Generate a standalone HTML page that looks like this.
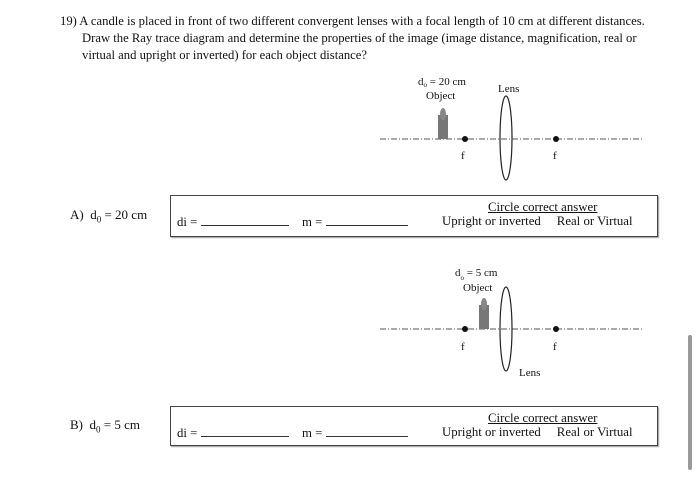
<!DOCTYPE html>
<html><head><style>
body{margin:0;width:700px;height:499px;background:#fff;position:relative;overflow:hidden;font-family:"Liberation Serif",serif;color:#111}
.t{position:absolute;white-space:nowrap;font-size:12.5px}
.h{font-size:12.65px}
.b{font-size:12.8px}
.box{position:absolute;left:170px;width:486px;border:1px solid #444;box-shadow:1px 1px 1px #999}
</style></head><body>
<div class="t h" style="left:60px;top:14px">19) A candle is placed in front of two different convergent lenses with a focal length of 10 cm at different distances.</div>
<div class="t h" style="left:82px;top:31px">Draw the Ray trace diagram and determine the properties of the image (image distance, magnification, real or</div>
<div class="t h" style="left:82px;top:48px">virtual and upright or inverted) for each object distance?</div>

<svg width="700" height="499" style="position:absolute;left:0;top:0" font-family="Liberation Serif, serif" font-size="11" fill="#111">
<g stroke="#555" stroke-width="1" stroke-dasharray="6,2,1,2">
<line x1="380" y1="139" x2="644" y2="139"/><line x1="380" y1="329" x2="644" y2="329"/></g>
<g fill="none" stroke="#222" stroke-width="1.2">
<ellipse cx="506" cy="138" rx="6" ry="42"/><ellipse cx="506" cy="329" rx="6" ry="42"/></g>
<rect x="438" y="115" width="10" height="24" fill="#777"/><ellipse cx="443" cy="114" rx="3" ry="6" fill="#888"/>
<rect x="479" y="305" width="10" height="24" fill="#777"/><ellipse cx="484" cy="304" rx="3" ry="6" fill="#888"/>
<circle cx="465" cy="139" r="3"/><circle cx="556" cy="139" r="3"/>
<circle cx="465" cy="329" r="3"/><circle cx="556" cy="329" r="3"/>
<text x="418" y="85">d<tspan font-size="7" dy="2">o</tspan><tspan dy="-2"> = 20 cm</tspan></text>
<text x="426" y="99">Object</text><text x="498" y="92">Lens</text>
<text x="461" y="159">f</text><text x="553" y="159">f</text>
<text x="455" y="276">d<tspan font-size="7" dy="4">o</tspan><tspan dy="-4"> = 5 cm</tspan></text>
<text x="463" y="291">Object</text><text x="519" y="376">Lens</text>
<text x="461" y="350">f</text><text x="553" y="350">f</text>
<rect x="688" y="335" width="4" height="135" fill="#999" rx="2"/>
</svg>

<div class="t" style="left:70px;top:207px;font-size:13px">A)&nbsp; d<sub style="font-size:9px">0</sub> = 20 cm</div>
<div class="box" style="top:195px;height:40px"></div>
<div class="t b" style="left:177px;top:215px">di = <span style="display:inline-block;width:88px;border-bottom:1px solid #333"></span></div>
<div class="t b" style="left:302px;top:215px">m = <span style="display:inline-block;width:82px;border-bottom:1px solid #333"></span></div>
<div class="t b" style="left:488px;top:200px;text-decoration:underline">Circle correct answer</div>
<div class="t b" style="left:442px;top:214px">Upright or inverted&nbsp;&nbsp;&nbsp;&nbsp; Real or Virtual</div>

<div class="t" style="left:70px;top:417px;font-size:13px">B)&nbsp; d<sub style="font-size:9px">0</sub> = 5 cm</div>
<div class="box" style="top:406px;height:38px"></div>
<div class="t b" style="left:177px;top:426px">di = <span style="display:inline-block;width:88px;border-bottom:1px solid #333"></span></div>
<div class="t b" style="left:302px;top:426px">m = <span style="display:inline-block;width:82px;border-bottom:1px solid #333"></span></div>
<div class="t b" style="left:488px;top:411px;text-decoration:underline">Circle correct answer</div>
<div class="t b" style="left:442px;top:425px">Upright or inverted&nbsp;&nbsp;&nbsp;&nbsp; Real or Virtual</div>
</body></html>
